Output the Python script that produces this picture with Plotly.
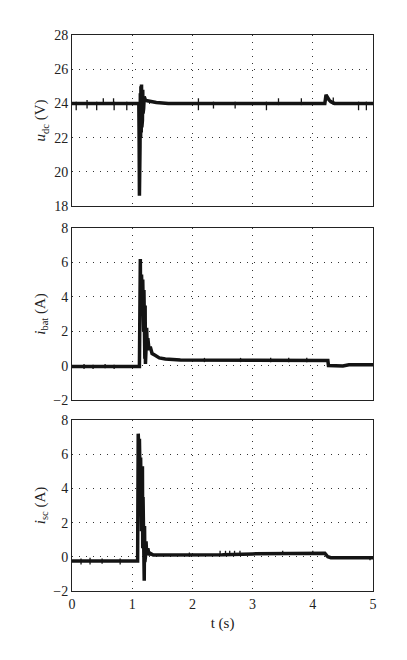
import plotly.graph_objects as go
from plotly.subplots import make_subplots

# ---------------- data ----------------
# Panel 1: DC bus voltage u_dc (V)
udc_t = [0, 1.11, 1.115, 1.12, 1.125, 1.13, 1.135, 1.14, 1.145, 1.15, 1.155, 1.16,
         1.165, 1.17, 1.175, 1.18, 1.185, 1.19, 1.2, 1.22, 1.25, 1.3, 1.4, 1.6,
         4.2, 4.22, 4.24, 4.27, 4.3, 4.34, 4.36, 5]
udc_v = [24.0, 24.0, 22.0, 18.6, 21.0, 21.5, 24.6, 22.0, 25.0, 22.3, 25.1, 22.6,
         25.0, 23.0, 24.8, 23.4, 24.6, 23.7, 24.4, 24.2, 24.15, 24.1, 24.05, 24.0,
         24.0, 24.5, 24.35, 24.2, 24.1, 24.05, 24.0, 24.0]
udc_spk_t = [0.07, 0.25, 0.41, 0.52, 0.69, 0.70, 0.91, 2.10, 2.35, 2.71, 3.23, 3.43, 3.81, 4.76, 4.89, 4.34]
udc_spk_lo = [23.6, 23.7, 23.6, 23.9, 23.9, 23.6, 23.6, 23.6, 23.7, 23.7, 23.6, 23.9, 23.9, 23.6, 23.6, 23.9]
udc_spk_hi = [24.1, 24.2, 24.1, 24.3, 24.3, 24.1, 24.1, 24.3, 24.1, 24.1, 24.1, 24.3, 24.3, 24.1, 24.1, 24.35]

# Panel 2: battery current i_bat (A)
ibat_t = [0, 1.12, 1.135, 1.14, 1.145, 1.15, 1.155, 1.16, 1.165, 1.17, 1.175, 1.18,
          1.185, 1.19, 1.195, 1.2, 1.205, 1.21, 1.215, 1.22, 1.225, 1.23, 1.24, 1.25,
          1.26, 1.28, 1.3, 1.33, 1.38, 1.45, 1.55, 1.8, 4.25, 4.26, 4.5, 4.6, 5]
ibat_v = [-0.05, -0.05, 6.2, 3.6, 5.3, 4.0, 5.3, 3.5, 5.2, 3.3, 5.0, 2.8,
          4.7, 2.0, 4.4, 1.2, 4.0, 0.4, 3.5, 0.1, 3.0, 1.0, 2.2, 1.0,
          1.6, 0.9, 1.1, 0.7, 0.6, 0.45, 0.38, 0.32, 0.3, 0.0, -0.02, 0.05, 0.05]
ibat_spk_t = [0.2, 0.35, 0.55, 0.7, 2.2, 2.8, 3.3, 3.6, 3.9]
ibat_spk_lo = [-0.2, -0.2, -0.15, -0.2, 0.2, 0.2, 0.2, 0.2, 0.2]
ibat_spk_hi = [0.1, 0.05, 0.1, 0.05, 0.45, 0.45, 0.45, 0.45, 0.45]

# Panel 3: supercapacitor current i_sc (A)
isc_t = [0, 1.09, 1.1, 1.105, 1.11, 1.115, 1.12, 1.125, 1.13, 1.135, 1.14, 1.145,
         1.15, 1.155, 1.16, 1.165, 1.17, 1.175, 1.18, 1.185, 1.19, 1.195, 1.2, 1.205,
         1.21, 1.215, 1.22, 1.23, 1.24, 1.26, 1.28, 1.3, 1.35, 2.5, 3.0, 4.2, 4.25,
         4.3, 5]
isc_v = [-0.25, -0.25, 7.2, 6.0, 7.1, 5.5, 6.9, 4.5, 6.4, 3.5, 5.8, 2.5,
         5.0, 1.5, 4.8, 0.8, 5.3, 0.5, 3.5, -0.4, 2.5, -0.8, -1.4, 1.8,
         -0.3, 1.2, 0.0, 0.9, 0.2, 0.5, 0.1, 0.2, 0.1, 0.12, 0.17, 0.2, 0.0,
         -0.05, -0.05]
isc_spk_t = [0.15, 0.3, 0.5, 0.8, 1.95, 2.46, 2.55, 2.62, 2.7, 2.79, 3.5, 4.0, 4.95]
isc_spk_lo = [-0.45, -0.45, -0.4, -0.45, 0.0, 0.05, 0.05, 0.05, 0.05, 0.05, 0.1, 0.1, -0.2]
isc_spk_hi = [-0.1, -0.05, -0.1, -0.1, 0.25, 0.35, 0.35, 0.35, 0.35, 0.35, 0.35, 0.35, 0.05]

y_titles = ["<i>u</i><sub>dc</sub> (V)", "<i>i</i><sub>bat</sub> (A)", "<i>i</i><sub>sc</sub> (A)"]
y_ranges = [[18, 28], [-2, 8], [-2, 8]]
y_ticks = [[18, 20, 22, 24, 26, 28], [-2, 0, 2, 4, 6, 8], [-2, 0, 2, 4, 6, 8]]
x_ticks = [0, 1, 2, 3, 4, 5]
x_title = "t (s)"

# ---------------- figure ----------------
FONT = "Liberation Serif, Times New Roman, serif"
LINE = "#141414"
TXT = "#222222"

fig = make_subplots(rows=3, cols=1, shared_xaxes=False)

series = [
    (udc_t, udc_v, udc_spk_t, udc_spk_lo, udc_spk_hi),
    (ibat_t, ibat_v, ibat_spk_t, ibat_spk_lo, ibat_spk_hi),
    (isc_t, isc_v, isc_spk_t, isc_spk_lo, isc_spk_hi),
]
for i, (t, v, st, lo, hi) in enumerate(series, start=1):
    fig.add_trace(go.Scatter(x=t, y=v, mode="lines",
                             line=dict(color=LINE, width=3.5), showlegend=False),
                  row=i, col=1)
    sx, sy = [], []
    for a, b, c in zip(st, lo, hi):
        sx += [a, a, None]
        sy += [b, c, None]
    fig.add_trace(go.Scatter(x=sx, y=sy, mode="lines",
                             line=dict(color=LINE, width=1.3), showlegend=False),
                  row=i, col=1)

domains = [[0.6924, 1.0], [0.3435, 0.6529], [0.0, 0.3076]]
for i in range(3):
    xa = "xaxis" if i == 0 else f"xaxis{i+1}"
    ya = "yaxis" if i == 0 else f"yaxis{i+1}"
    fig.layout[xa].update(
        range=[0, 5], tickvals=x_ticks, showticklabels=(i == 2),
        showgrid=True, gridcolor="#333333", griddash="1px,6px", gridwidth=1,
        showline=True, linecolor="#222222", linewidth=1, mirror=True,
        ticks="", zeroline=False, domain=[0, 1],
        tickfont=dict(family=FONT, size=14, color=TXT),
    )
    fig.layout[ya].update(
        range=y_ranges[i], tickvals=y_ticks[i], domain=domains[i],
        showgrid=True, gridcolor="#333333", griddash="1px,6px", gridwidth=1,
        showline=True, linecolor="#222222", linewidth=1, mirror=True,
        ticks="", zeroline=False,
        tickfont=dict(family=FONT, size=14, color=TXT),
        title=dict(text=y_titles[i], font=dict(family=FONT, size=15, color=TXT), standoff=4),
    )
fig.layout["xaxis3"].title = dict(text=x_title, font=dict(family=FONT, size=15, color=TXT), standoff=6)

fig.update_layout(
    width=399, height=652,
    margin=dict(l=64, r=34, t=27, b=69),
    paper_bgcolor="white", plot_bgcolor="white",
)

fig.write_html("out.html")
